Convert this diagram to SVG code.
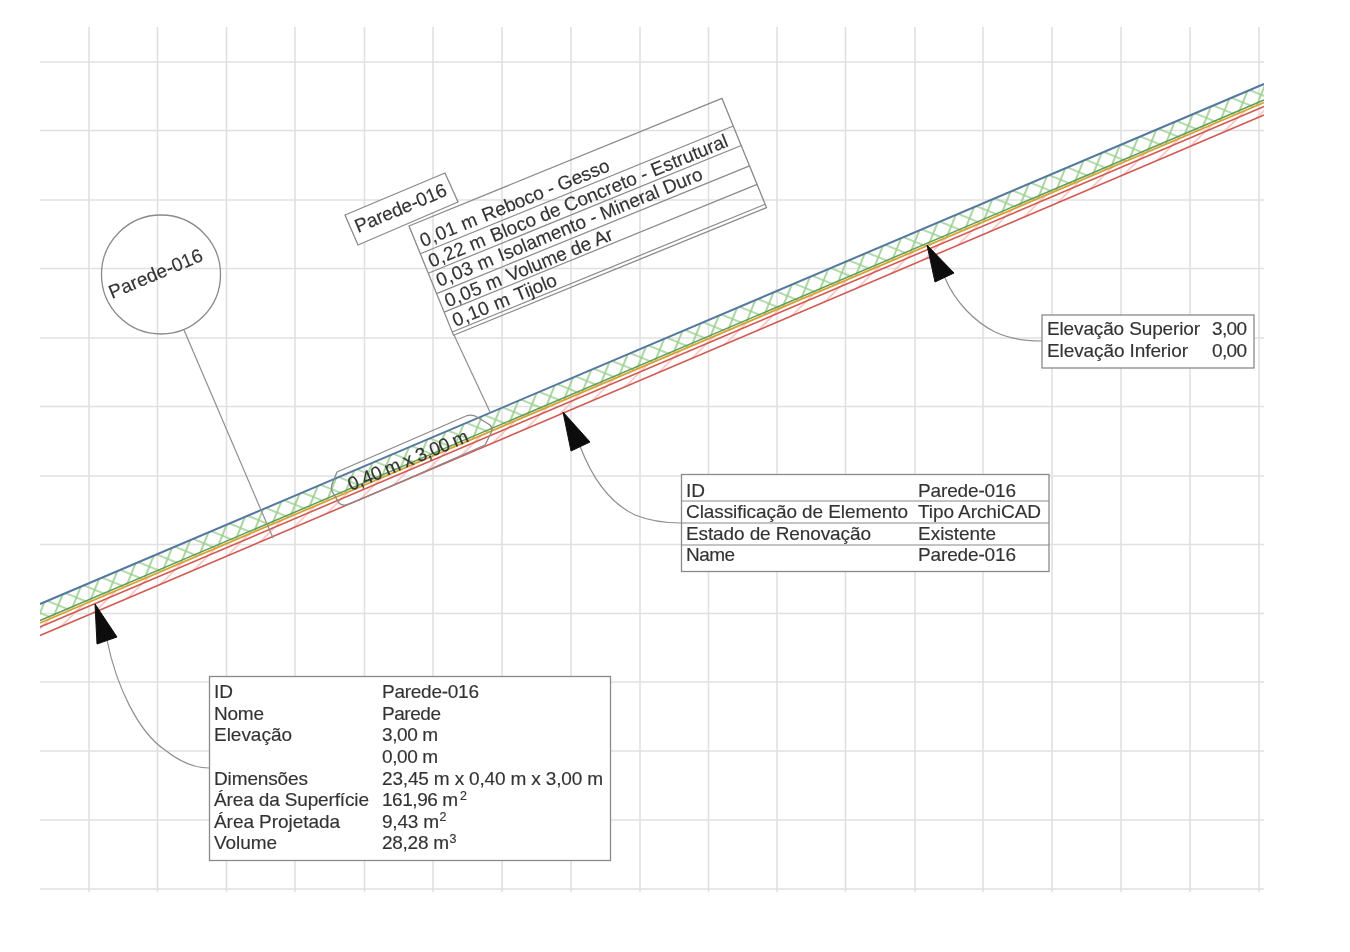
<svg xmlns="http://www.w3.org/2000/svg" width="1350" height="952" viewBox="0 0 1350 952">
<style>
text{font-family:"Liberation Sans",Arial,sans-serif;font-size:19px;fill:#333;stroke:#333;stroke-width:.15px}
.sup{font-size:12.5px}
.grid line{stroke:#e0e0e0;stroke-width:1.6}
.box{fill:#fff;stroke:#8a8a8a;stroke-width:1.3}
.open{fill:none;stroke:#8a8a8a;stroke-width:1.3}
.div{stroke:#8a8a8a;stroke-width:1.2;fill:none}
.lead{fill:none;stroke:#8f8f8f;stroke-width:1.2}
.head{fill:#111;stroke:#111;stroke-width:1;stroke-linejoin:round}
</style>
<defs>
<filter id="soft" x="0" y="0" width="100%" height="100%"><feGaussianBlur stdDeviation="0.4"/></filter>
<pattern id="cross" width="14" height="14" patternUnits="userSpaceOnUse" patternTransform="translate(36.130 603.890) rotate(22)">
<path d="M0 7H14M7 0V14" fill="none" stroke="#9bd08f" stroke-width="1.700"/>
</pattern>
<pattern id="pink" width="13.500" height="20" patternUnits="userSpaceOnUse" patternTransform="translate(40 620) rotate(45)">
<path d="M6 0V20" fill="none" stroke="#f7bdb8" stroke-width="1.400"/>
</pattern>
</defs>
<rect width="1350" height="952" fill="#fff"/>
<g filter="url(#soft)">
<g id="grid" class="grid">
<line x1="89" y1="27" x2="89" y2="892"/><line x1="157.5" y1="27" x2="157.5" y2="892"/><line x1="226.5" y1="27" x2="226.5" y2="892"/><line x1="295" y1="27" x2="295" y2="892"/><line x1="364.5" y1="27" x2="364.5" y2="892"/><line x1="433" y1="27" x2="433" y2="892"/><line x1="502" y1="27" x2="502" y2="892"/><line x1="571" y1="27" x2="571" y2="892"/><line x1="640" y1="27" x2="640" y2="892"/><line x1="708.5" y1="27" x2="708.5" y2="892"/><line x1="777" y1="27" x2="777" y2="892"/><line x1="845.5" y1="27" x2="845.5" y2="892"/><line x1="915" y1="27" x2="915" y2="892"/><line x1="983" y1="27" x2="983" y2="892"/><line x1="1052" y1="27" x2="1052" y2="892"/><line x1="1121" y1="27" x2="1121" y2="892"/><line x1="1190" y1="27" x2="1190" y2="892"/><line x1="1259" y1="27" x2="1259" y2="892"/>
<line x1="40" y1="62" x2="1264" y2="62"/><line x1="40" y1="130.5" x2="1264" y2="130.5"/><line x1="40" y1="200" x2="1264" y2="200"/><line x1="40" y1="268.5" x2="1264" y2="268.5"/><line x1="40" y1="338" x2="1264" y2="338"/><line x1="40" y1="406.5" x2="1264" y2="406.5"/><line x1="40" y1="476" x2="1264" y2="476"/><line x1="40" y1="544.5" x2="1264" y2="544.5"/><line x1="40" y1="613.5" x2="1264" y2="613.5"/><line x1="40" y1="682" x2="1264" y2="682"/><line x1="40" y1="751" x2="1264" y2="751"/><line x1="40" y1="820" x2="1264" y2="820"/><line x1="40" y1="889" x2="1264" y2="889"/>
</g>
<g id="wall">
<polygon points="40,604 1264,84 1264,102 40,622" fill="url(#cross)"/>
<polygon points="40,623 1264,102.500 1264,115 40,635.500" fill="url(#pink)"/>
<line x1="40" y1="604" x2="1264" y2="84" stroke="#55789f" stroke-width="2"/>
<line x1="40" y1="620.500" x2="1264" y2="100" stroke="#5f9e55" stroke-width="1.500"/>
<line x1="40" y1="623" x2="1264" y2="102.500" stroke="#d8a030" stroke-width="1.800"/>
<line x1="40" y1="627" x2="1264" y2="106.500" stroke="#d25a54" stroke-width="1.600"/>
<line x1="40" y1="635.500" x2="1264" y2="115" stroke="#d25a54" stroke-width="1.600"/>
</g>
<g id="connectors">
<line class="lead" x1="184" y1="330" x2="273" y2="538"/>
<line class="lead" x1="454" y1="335" x2="490" y2="412"/>
<path class="lead" d="M107 640C116 685 138 732 165 750C180 762 195 768 209 768"/>
<path class="lead" d="M580 446C592 478 610 503 635 515C650 521 665 523 681 523"/>
<path class="lead" d="M945 278C955 302 975 322 995 332C1010 339 1025 341 1042 341"/>
<polygon class="head" points="95,604 97,644 117,637"/>
<polygon class="head" points="563,412 571,451 590,442"/>
<polygon class="head" points="927,245 935,282 954,273"/>
</g>
<g id="dim-label">
<path class="open" d="M337 472L466 416Q472 414 477 417L490 425Q493 428 491 433L485 445L364 498L346 505Q342 506 339 503L332 491Q331 488 332 484Z"/>
<text transform="translate(351 491) rotate(-22.8)" textLength="129" lengthAdjust="spacing">0,40 m x 3,00 m</text>
</g>
<g id="circle-label">
<circle cx="161" cy="274.5" r="59.500" fill="none" stroke="#8a8a8a" stroke-width="1.300"/>
<text transform="translate(112 299) rotate(-22.8)" textLength="100" lengthAdjust="spacing">Parede-016</text>
</g>
<g id="id-label">
<polygon class="box" points="345,215 445,173 458,202 358,245"/>
<text transform="translate(358 233) rotate(-22.8)" textLength="98" lengthAdjust="spacing">Parede-016</text>
</g>
<g id="layers-table" transform="translate(409 226) rotate(-22.200)">
<path class="open" d="M0 0H338V118H0Z"/>
<path class="div" d="M0 30H338M0 51H338M0 73H338M0 93H338M0 114.500H338"/>
<text x="5" y="25" textLength="60" lengthAdjust="spacing">0,01 m</text><text x="72" y="25" textLength="136" lengthAdjust="spacing">Reboco - Gesso</text>
<text x="5" y="47" textLength="60" lengthAdjust="spacing">0,22 m</text><text x="72" y="47" textLength="255" lengthAdjust="spacing">Bloco de Concreto - Estrutural</text>
<text x="5" y="68" textLength="60" lengthAdjust="spacing">0,03 m</text><text x="72" y="68" textLength="219" lengthAdjust="spacing">Isolamento - Mineral Duro</text>
<text x="5" y="90" textLength="60" lengthAdjust="spacing">0,05 m</text><text x="72" y="90" textLength="113" lengthAdjust="spacing">Volume de Ar</text>
<text x="5" y="111" textLength="60" lengthAdjust="spacing">0,10 m</text><text x="72" y="111" textLength="44" lengthAdjust="spacing">Tijolo</text>
</g>
<g id="table-main">
<rect class="box" x="209.500" y="676.500" width="401" height="184"/>
<text x="214" y="698">ID</text><text x="382" y="698" textLength="97" lengthAdjust="spacing">Parede-016</text>
<text x="214" y="720" textLength="50" lengthAdjust="spacing">Nome</text><text x="382" y="720" textLength="59" lengthAdjust="spacing">Parede</text>
<text x="214" y="741" textLength="78" lengthAdjust="spacing">Elevação</text><text x="382" y="741" textLength="56" lengthAdjust="spacing">3,00 m</text>
<text x="382" y="762.500" textLength="56" lengthAdjust="spacing">0,00 m</text>
<text x="214" y="785" textLength="94" lengthAdjust="spacing">Dimensões</text><text x="382" y="785" textLength="221" lengthAdjust="spacing">23,45 m x 0,40 m x 3,00 m</text>
<text x="214" y="806" textLength="155" lengthAdjust="spacing">Área da Superfície</text><text x="382" y="806" textLength="76" lengthAdjust="spacing">161,96 m</text><text class="sup" x="460" y="800">2</text>
<text x="214" y="828" textLength="126" lengthAdjust="spacing">Área Projetada</text><text x="382" y="828" textLength="57" lengthAdjust="spacing">9,43 m</text><text class="sup" x="439.500" y="821">2</text>
<text x="214" y="849" textLength="63" lengthAdjust="spacing">Volume</text><text x="382" y="849" textLength="67" lengthAdjust="spacing">28,28 m</text><text class="sup" x="449.500" y="843">3</text>
</g>
<g id="table-class">
<rect class="box" x="681.500" y="474.500" width="367.500" height="97"/>
<path class="div" d="M681.500 501H1049M681.500 523H1049M681.500 545H1049"/>
<text x="686" y="497">ID</text><text x="918" y="497" textLength="98" lengthAdjust="spacing">Parede-016</text>
<text x="686" y="518" textLength="222" lengthAdjust="spacing">Classificação de Elemento</text><text x="918" y="518" textLength="123" lengthAdjust="spacing">Tipo ArchiCAD</text>
<text x="686" y="540" textLength="185" lengthAdjust="spacing">Estado de Renovação</text><text x="918" y="540" textLength="78" lengthAdjust="spacing">Existente</text>
<text x="686" y="561" textLength="49" lengthAdjust="spacing">Name</text><text x="918" y="561" textLength="98" lengthAdjust="spacing">Parede-016</text>
</g>
<g id="table-elev">
<rect class="box" x="1042" y="315" width="212" height="53"/>
<text x="1047" y="335" textLength="153" lengthAdjust="spacing">Elevação Superior</text><text x="1212" y="335" textLength="35" lengthAdjust="spacing">3,00</text>
<text x="1047" y="357" textLength="141" lengthAdjust="spacing">Elevação Inferior</text><text x="1212" y="357" textLength="35" lengthAdjust="spacing">0,00</text>
</g>
</g>
</svg>
